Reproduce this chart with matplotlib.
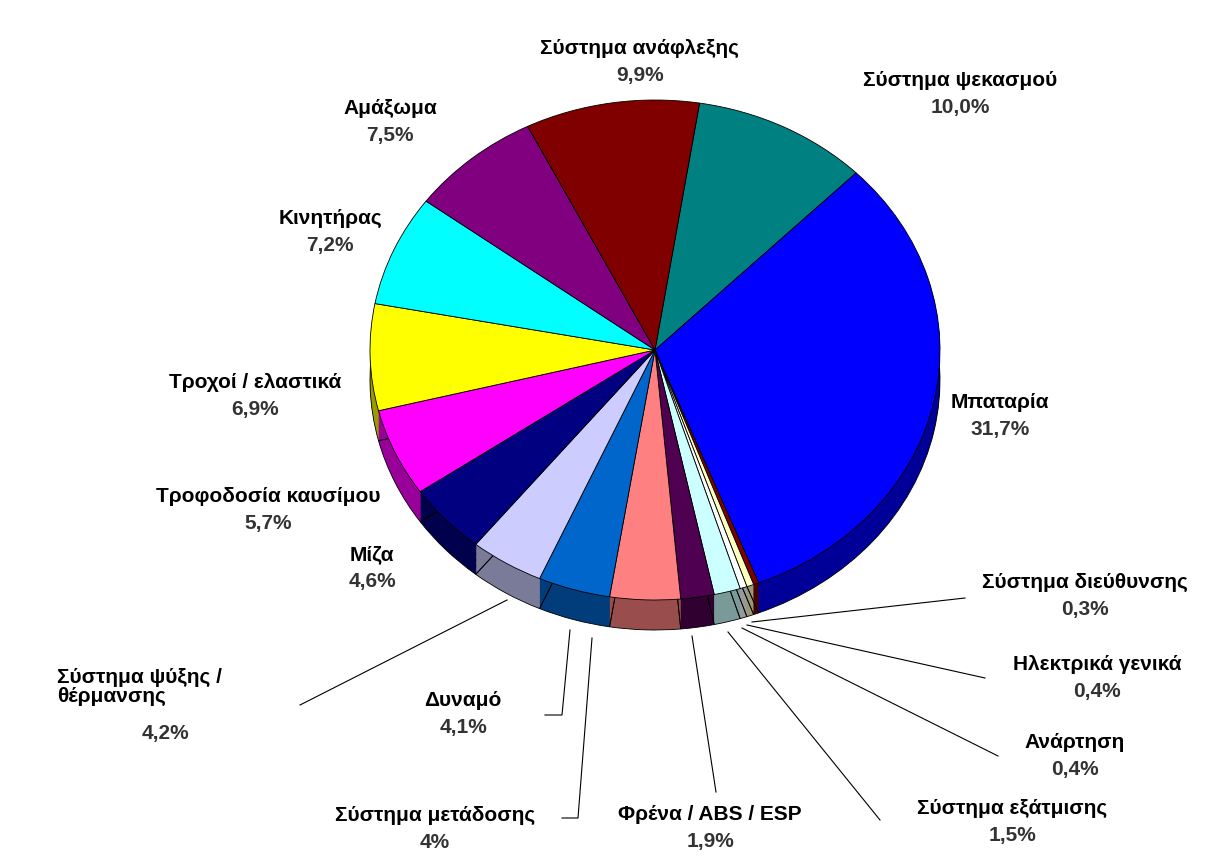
import matplotlib
matplotlib.use("Agg")
import matplotlib.pyplot as plt
import numpy as np
from matplotlib.colors import to_rgb

labels = ["Σύστημα ψεκασμού", "Μπαταρία", "Σύστημα διεύθυνσης", "Ηλεκτρικά γενικά",
          "Ανάρτηση", "Σύστημα εξάτμισης", "Φρένα / ABS / ESP", "Σύστημα μετάδοσης",
          "Δυναμό", "Σύστημα ψύξης /\nθέρμανσης", "Μίζα", "Τροφοδοσία καυσίμου",
          "Τροχοί / ελαστικά", "Κινητήρας", "Αμάξωμα", "Σύστημα ανάφλεξης"]
values = [10.0, 31.7, 0.3, 0.4, 0.4, 1.5, 1.9, 4.0, 4.1, 4.2, 4.6, 5.7, 6.9, 7.2, 7.5, 9.9]
pct_text = ["10,0%", "31,7%", "0,3%", "0,4%", "0,4%", "1,5%", "1,9%", "4%",
            "4,1%", "4,2%", "4,6%", "5,7%", "6,9%", "7,2%", "7,5%", "9,9%"]
colors = ["#008080", "#0000ff", "#800000", "#ffffc0", "#ffffff", "#ccffff", "#500050",
          "#ff8080", "#0066cc", "#ccccff", "#000080", "#ff00ff", "#ffff00", "#00ffff",
          "#800080", "#800000"]

label_pos = [(960, 80), (1000, 402), (1085, 582), (1097, 665), (1075, 742), (1012, 808),
             (710, 815), (435, 815), (463, 700), (150, 680), (372, 555), (268, 497),
             (255, 383), (330, 218), (390, 108), (640, 48)]
leaders = {2: [(965, 598), (752, 622)], 3: [(985, 678), (747, 625)],
           4: [(998, 756), (742, 628)], 5: [(880, 820), (728, 632)],
           6: [(716, 792), (692, 636)], 7: [(562, 818), (578, 818), (592, 638)],
           8: [(545, 715), (562, 715), (570, 630)], 9: [(300, 705), (507, 600)]}

plt.rcParams['font.family'] = ['Liberation Sans', 'DejaVu Sans']
fig = plt.figure(figsize=(12.24, 8.68), dpi=100)
W, H = 1224, 868
depth = 0.12
ax = fig.add_axes([370 / W, 1 - 630 / H, 570 / W, 530 / H])
dark = [tuple(c * 0.6 for c in to_rgb(col)) for col in colors]
for off in np.linspace(-depth, -0.005, 25):
    ax.pie(values, colors=dark, startangle=81, counterclock=False, center=(0, off),
           radius=1, wedgeprops=dict(linewidth=0), normalize=True, frame=True)
ax.pie(values, colors=dark, startangle=81, counterclock=False, center=(0, -depth),
       radius=1, wedgeprops=dict(linewidth=0.6, edgecolor='black', fill=False), frame=True)
ax.pie(values, colors=colors, startangle=81, counterclock=False, center=(0, 0),
       radius=1, wedgeprops=dict(linewidth=0.6, edgecolor='black'), frame=True)
ax.set_xlim(-1, 1)
ax.set_ylim(-1 - depth, 1)
ax.set_aspect('auto')
ax.axis('off')

ov = fig.add_axes([0, 0, 1, 1])
ov.set_xlim(0, W)
ov.set_ylim(H, 0)
ov.axis('off')
ov.patch.set_alpha(0)
fs = 15
for i, (lab, p) in enumerate(zip(labels, pct_text)):
    x, y = label_pos[i]
    if i == 9:
        ov.text(57, 668, lab, ha='left', va='top', fontsize=fs, fontweight='bold', linespacing=1.0)
        ov.text(165, 733, p, ha='center', va='center', fontsize=fs, fontweight='bold', color='#333333')
    else:
        ov.text(x, y, lab, ha='center', va='center', fontsize=fs, fontweight='bold')
        ov.text(x, y + 27, p, ha='center', va='center', fontsize=fs, fontweight='bold', color='#333333')
for i, pts in leaders.items():
    xs, ys = zip(*pts)
    ov.plot(xs, ys, color='black', linewidth=0.8)

fig.savefig("out.png", dpi=100, facecolor='white')
